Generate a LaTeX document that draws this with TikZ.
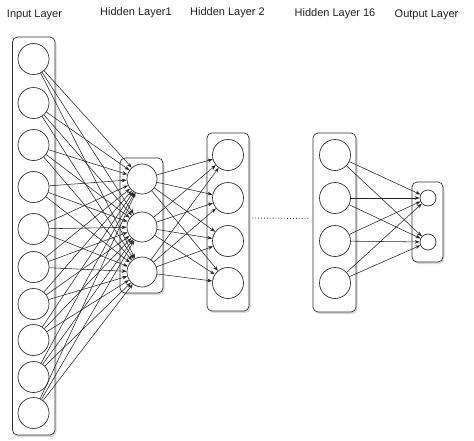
\documentclass[tikz,border=0pt]{standalone}
\usepackage{fontspec}
\setmainfont{Liberation Sans}
\usetikzlibrary{arrows.meta,shadows}
\definecolor{linec}{HTML}{333333}
\definecolor{textc}{HTML}{222222}
\tikzset{
  layerbox/.style={draw=linec, line width=0.7pt, rounded corners=5pt, fill=white,
    drop shadow={shadow xshift=1.5pt, shadow yshift=-2pt, opacity=0.3, fill=gray},
    inner sep=0pt},
  neuron/.style={circle, draw=linec, line width=0.7pt, fill=white, minimum size=31pt, inner sep=0pt},
  smallneuron/.style={neuron, minimum size=16pt},
  conn/.style={draw=black!85, line width=0.55pt, -{Stealth[length=5pt,width=3.6pt]}},
  lbl/.style={text=textc, font=\fontsize{11}{13}\selectfont, inner sep=0pt},
}
\begin{document}
\begin{tikzpicture}[x=1pt,y=-1pt]
\useasboundingbox (0,0) rectangle (474,440);
% labels
\node[lbl] (tin) at (34.5,14.5) {Input Layer};
\node[lbl] (th1) at (136,12.5) {Hidden Layer1};
\node[lbl] (th2) at (227.5,12.5) {Hidden Layer 2};
\node[lbl] (th16) at (335,14) {Hidden Layer 16};
\node[lbl] (tout) at (426.5,15) {Output Layer};
% layer boxes
\node[layerbox, minimum width=42.5pt, minimum height=398pt] (inbox) at (33.75,236) {};
\node[layerbox, minimum width=43pt, minimum height=135pt] (h1box) at (141.5,225.5) {};
\node[layerbox, minimum width=42pt, minimum height=178pt] (h2box) at (228,222) {};
\node[layerbox, minimum width=43pt, minimum height=179pt] (h16box) at (334.5,222.5) {};
\node[layerbox, minimum width=31pt, minimum height=80pt] (outbox) at (427.5,222) {};
% neurons
\foreach \y [count=\i] in {59,103,145,187,229,267,304,340,377,413}
  \node[neuron] (in\i) at (33.5,\y) {};
\foreach \y [count=\i] in {179,227,272}
  \node[neuron, minimum size=30pt] (ha\i) at (142,\y) {};
\foreach \y [count=\i] in {155,198,241,283}
  \node[neuron] (hb\i) at (228,\y) {};
\foreach \y [count=\i] in {155,198,241,283}
  \node[neuron] (hc\i) at (335,\y) {};
\foreach \y [count=\i] in {198,242}
  \node[smallneuron] (o\i) at (428,\y) {};
% connections
\foreach \i in {1,...,10}
  \foreach \j in {1,2,3}
    \draw[conn] (in\i) -- (ha\j);
\foreach \i in {1,2,3}
  \foreach \j in {1,...,4}
    \draw[conn] (ha\i) -- (hb\j);
\foreach \i in {1,...,4}
  \foreach \j in {1,2}
    \draw[conn] (hc\i) -- (o\j);
% dotted continuation
\draw[linec, line width=0.9pt, dotted] ([shift={(3,-4)}]h2box.east) -- ([shift={(-3,-4)}]h16box.west);
\end{tikzpicture}
\end{document}
